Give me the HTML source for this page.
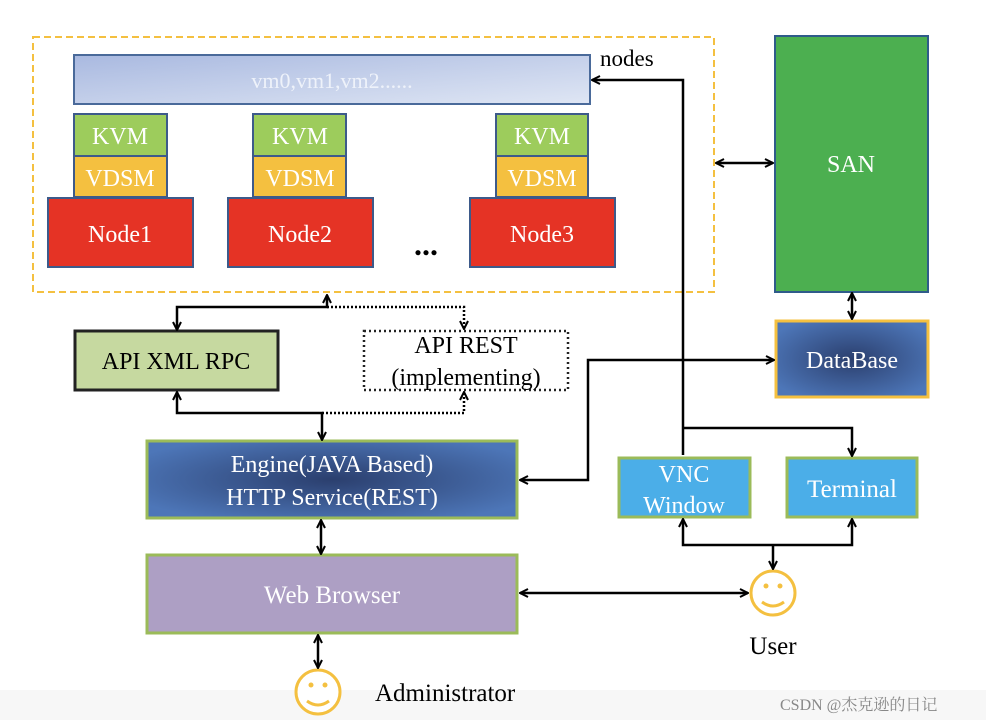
<!DOCTYPE html>
<html><head><meta charset="utf-8"><style>
body{margin:0;background:#fff}
svg{display:block}
text{font-family:"Liberation Serif","Noto Serif CJK SC",serif}
</style></head><body>
<svg width="986" height="720" viewBox="0 0 986 720" xmlns="http://www.w3.org/2000/svg">
<defs>
<linearGradient id="vm" x1="0" y1="0" x2="1" y2="1"><stop offset="0" stop-color="#a9b9e0"/><stop offset="1" stop-color="#dfe6f4"/></linearGradient>
<radialGradient id="blue" cx="0.5" cy="0.5" r="0.6"><stop offset="0" stop-color="#2b3f6e"/><stop offset="1" stop-color="#4d76b8"/></radialGradient>
<marker id="a" markerWidth="10" markerHeight="10" refX="9" refY="5" orient="auto" markerUnits="userSpaceOnUse"><path d="M1,1 L9,5 L1,9" fill="none" stroke="#000" stroke-width="2"/></marker>
<marker id="as" markerWidth="10" markerHeight="10" refX="1" refY="5" orient="auto" markerUnits="userSpaceOnUse"><path d="M9,1 L1,5 L9,9" fill="none" stroke="#000" stroke-width="2"/></marker>
</defs>
<rect x="0" y="690" width="986" height="30" fill="#f7f7f7"/>
<rect x="33" y="37" width="681" height="255" fill="none" stroke="#f4c040" stroke-width="2" stroke-dasharray="7,4"/>
<rect x="74" y="55" width="516" height="49" fill="url(#vm)" stroke="#4a6a9a" stroke-width="2"/>
<text x="332" y="88" font-size="22" fill="#eef2fa" text-anchor="middle">vm0,vm1,vm2......</text>
<g stroke="#3d5a8a" stroke-width="2">
<rect x="74" y="114" width="93" height="42" fill="#9dcc5c"/><rect x="74" y="156" width="93" height="41" fill="#f4c040"/><rect x="48" y="198" width="145" height="69" fill="#e53325"/>
<rect x="253" y="114" width="93" height="42" fill="#9dcc5c"/><rect x="253" y="156" width="93" height="41" fill="#f4c040"/><rect x="228" y="198" width="145" height="69" fill="#e53325"/>
<rect x="496" y="114" width="92" height="42" fill="#9dcc5c"/><rect x="496" y="156" width="92" height="41" fill="#f4c040"/><rect x="470" y="198" width="145" height="69" fill="#e53325"/>
</g>
<g font-size="24" fill="#fff" text-anchor="middle">
<text x="120" y="144">KVM</text><text x="120" y="186">VDSM</text><text x="120" y="242">Node1</text>
<text x="300" y="144">KVM</text><text x="300" y="186">VDSM</text><text x="300" y="242">Node2</text>
<text x="542" y="144">KVM</text><text x="542" y="186">VDSM</text><text x="542" y="242">Node3</text>
</g>
<text x="426" y="255" font-size="32" font-weight="bold" text-anchor="middle">...</text>
<text x="600" y="66" font-size="23">nodes</text>
<rect x="775" y="36" width="153" height="256" fill="#4caf50" stroke="#2f5b8a" stroke-width="2"/>
<text x="851" y="172" font-size="24" fill="#fff" text-anchor="middle" font-family="Liberation Sans, sans-serif">SAN</text>
<rect x="776" y="321" width="152" height="76" fill="url(#blue)" stroke="#f4c040" stroke-width="3"/>
<text x="852" y="368" font-size="24" fill="#fff" text-anchor="middle">DataBase</text>
<rect x="75" y="331" width="203" height="59" fill="#c6d9a0" stroke="#222" stroke-width="3"/>
<text x="176" y="369" font-size="24" text-anchor="middle">API XML RPC</text>
<rect x="364" y="331" width="204" height="59" fill="none" stroke="#222" stroke-width="2.5" stroke-dasharray="2,3"/>
<text x="466" y="353" font-size="24" text-anchor="middle">API REST</text>
<text x="466" y="385" font-size="24" text-anchor="middle">(implementing)</text>
<rect x="147" y="441" width="370" height="77" fill="url(#blue)" stroke="#9bbb59" stroke-width="3"/>
<text x="332" y="472" font-size="24" fill="#fff" text-anchor="middle">Engine(JAVA Based)</text>
<text x="332" y="505" font-size="24" fill="#fff" text-anchor="middle">HTTP Service(REST)</text>
<rect x="619" y="458" width="131" height="59" fill="#4baee8" stroke="#9bbb59" stroke-width="3"/>
<text x="684" y="482" font-size="24" fill="#fff" text-anchor="middle">VNC</text>
<text x="684" y="513" font-size="24" fill="#fff" text-anchor="middle">Window</text>
<rect x="787" y="458" width="130" height="59" fill="#4baee8" stroke="#9bbb59" stroke-width="3"/>
<text x="852" y="497" font-size="25" fill="#fff" text-anchor="middle">Terminal</text>
<rect x="147" y="555" width="370" height="78" fill="#ad9fc4" stroke="#9bbb59" stroke-width="3"/>
<text x="332" y="603" font-size="25" fill="#fff" text-anchor="middle">Web Browser</text>
<g fill="none" stroke="#f4c040" stroke-width="3">
<circle cx="773" cy="593" r="22" fill="#fff"/><circle cx="318" cy="692" r="22" fill="#fff"/>
<path d="M762,602 Q773,610 784,602"/><path d="M307,701 Q318,709 329,701"/>
</g>
<g fill="#f4c040"><circle cx="766" cy="586" r="2.5"/><circle cx="780" cy="586" r="2.5"/><circle cx="311" cy="685" r="2.5"/><circle cx="325" cy="685" r="2.5"/></g>
<text x="773" y="654" font-size="25" text-anchor="middle">User</text>
<text x="375" y="701" font-size="25">Administrator</text>
<g fill="none" stroke="#000" stroke-width="2.5">
<path d="M683,455 V80 H592" marker-end="url(#a)"/>
<path d="M683,428 H852 V456" marker-end="url(#a)"/>
<path d="M716,163 H773" marker-start="url(#as)" marker-end="url(#a)"/>
<path d="M852,293 V319" marker-start="url(#as)" marker-end="url(#a)"/>
<path d="M520,480 H588 V360 H774" marker-start="url(#as)" marker-end="url(#a)"/>
<path d="M327,295 V307 H177 V330" marker-start="url(#as)" marker-end="url(#a)"/>
<path d="M177,392 V413 H322 V440" marker-start="url(#as)" marker-end="url(#a)"/>
<path d="M321,520 V554" marker-start="url(#as)" marker-end="url(#a)"/>
<path d="M318,635 V668" marker-start="url(#as)" marker-end="url(#a)"/>
<path d="M520,593 H748" marker-start="url(#as)" marker-end="url(#a)"/>
<path d="M683,519 V545 H852 V519" marker-start="url(#as)" marker-end="url(#a)"/>
<path d="M773,545 V569" marker-end="url(#a)"/>
</g>
<g fill="none" stroke="#000" stroke-width="2.5" stroke-dasharray="2,2">
<path d="M327,307 H464 V329" marker-end="url(#a)"/>
<path d="M322,413 H464 V392" marker-end="url(#a)"/>
</g>
<text x="780" y="710" font-size="16" fill="#888" font-family="Liberation Sans, Noto Sans CJK SC, sans-serif">CSDN @杰克逊的日记</text>
</svg>
</body></html>
